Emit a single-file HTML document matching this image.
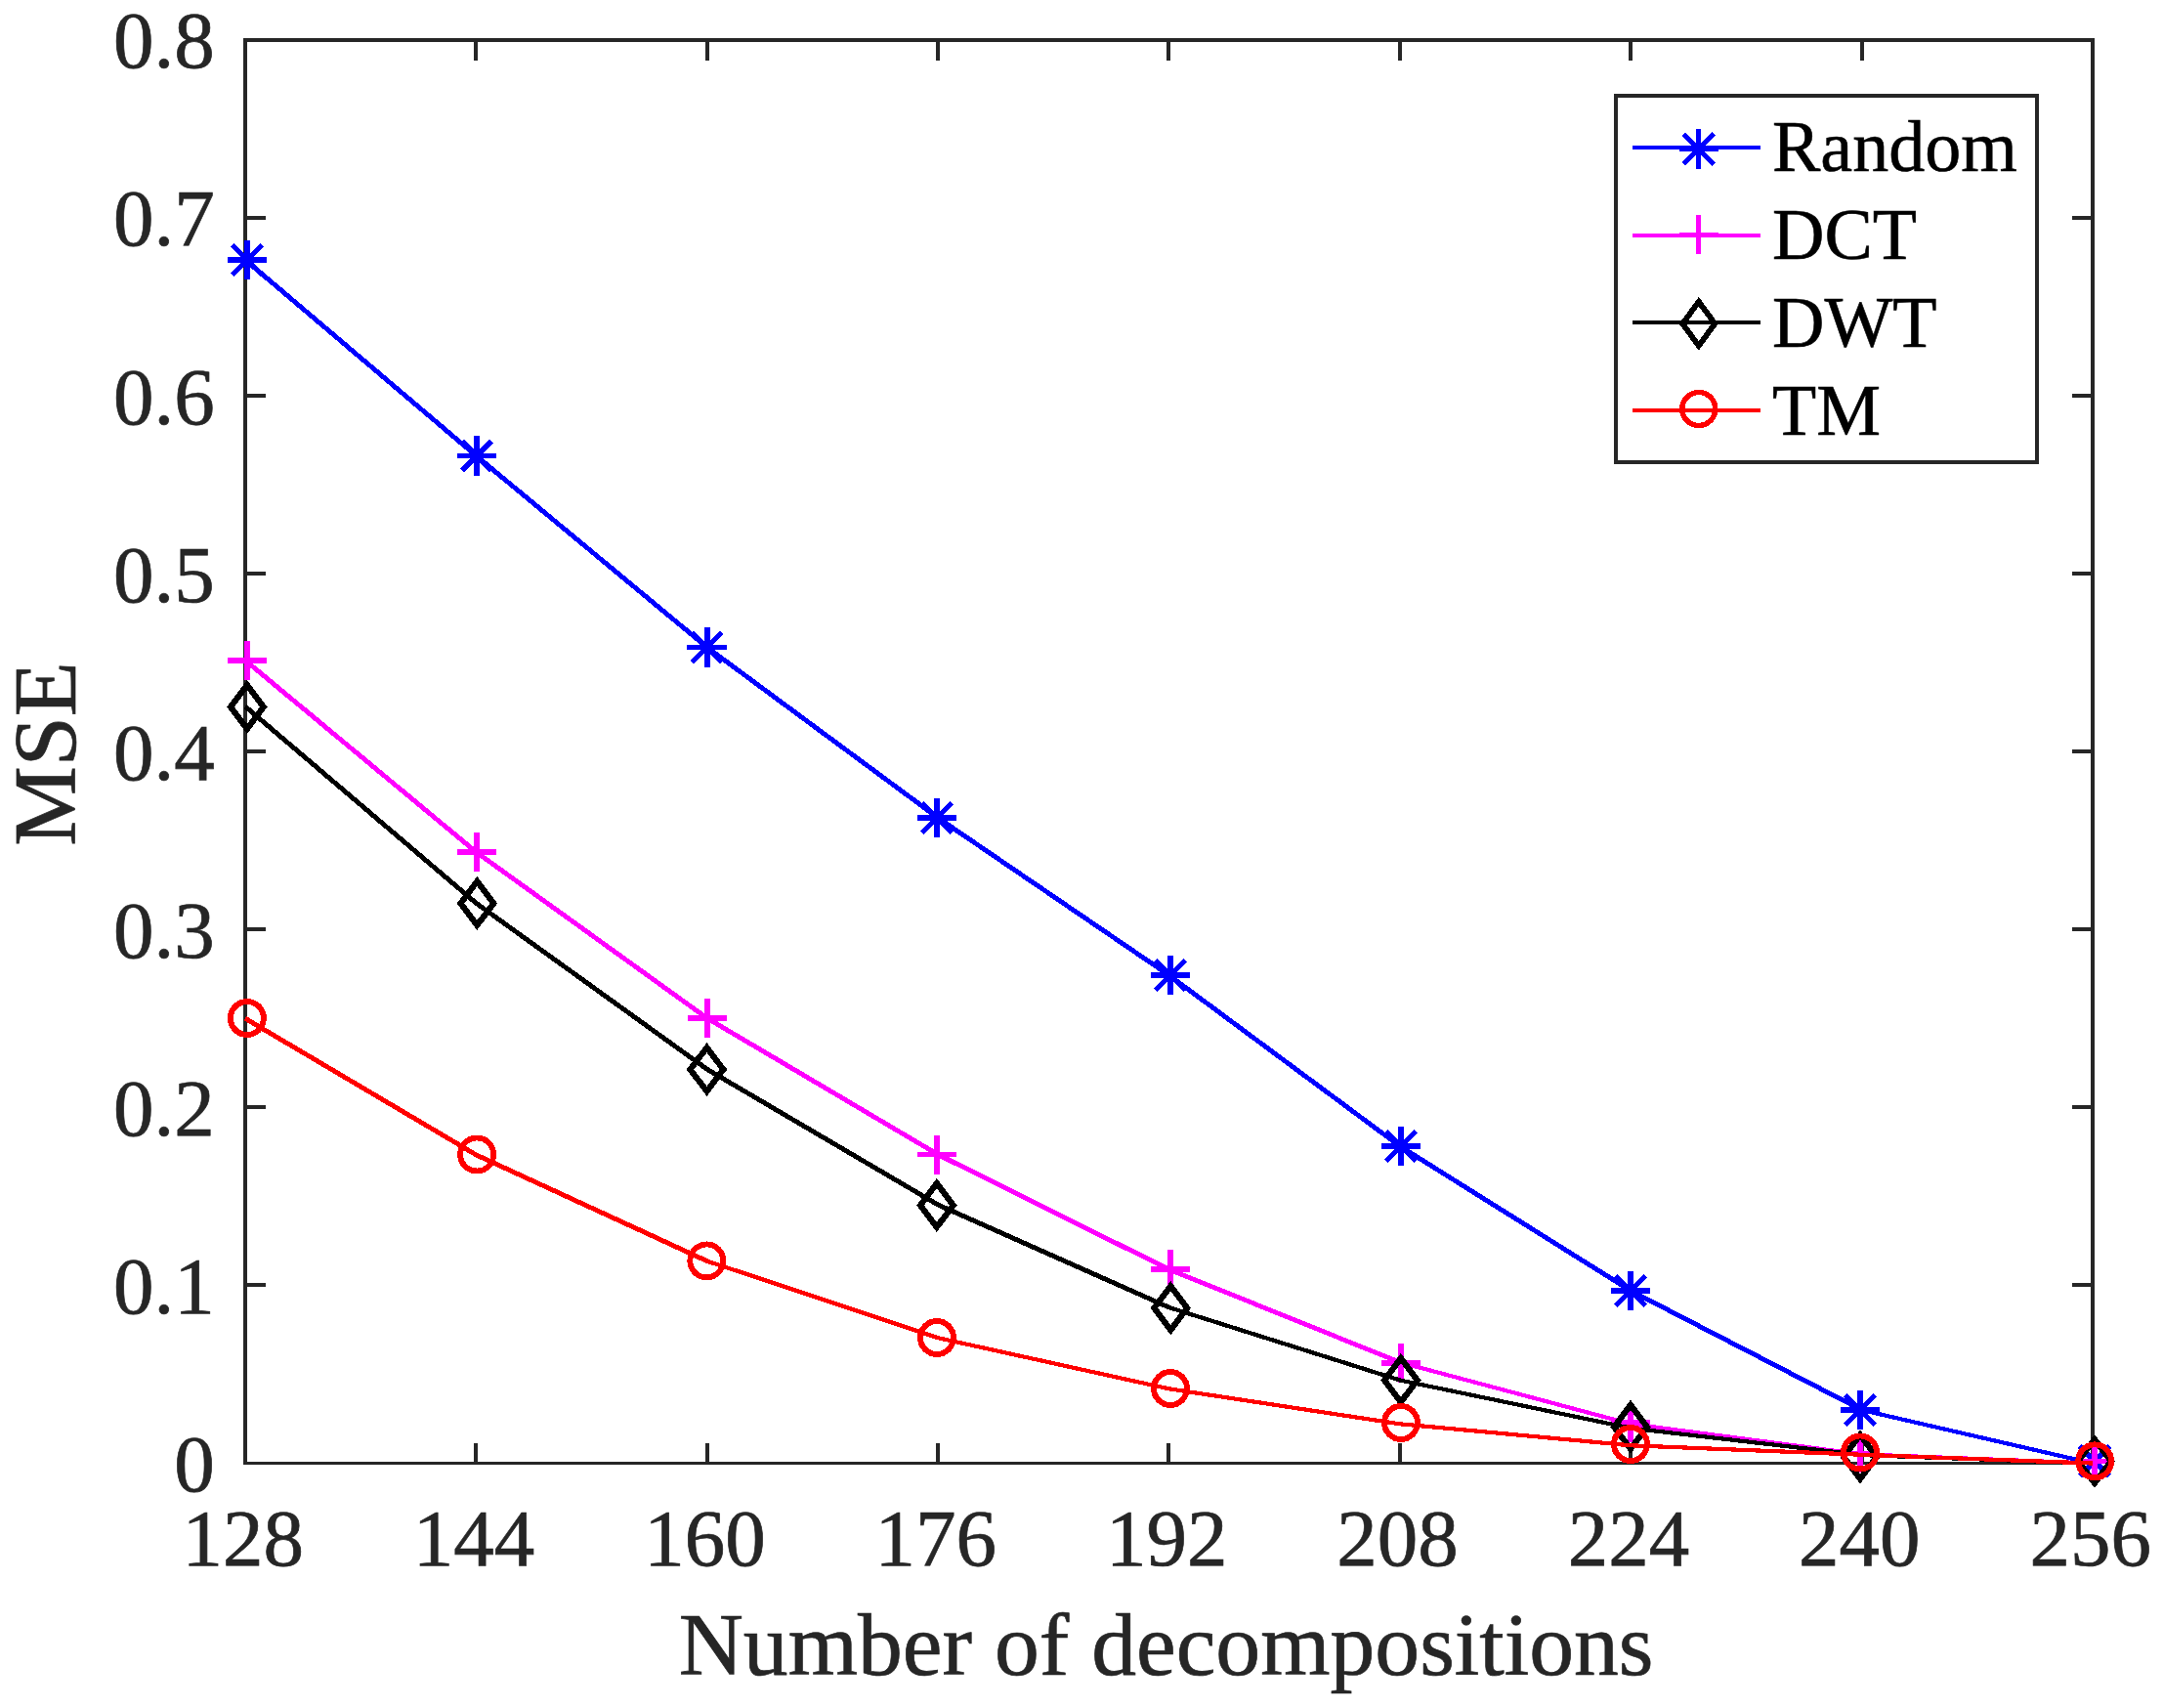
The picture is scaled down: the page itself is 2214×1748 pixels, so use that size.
<!DOCTYPE html>
<html lang="en"><head><meta charset="utf-8"><title>MSE versus number of decompositions</title>
<style>html,body{margin:0;padding:0;background:#fff}svg{display:block}text{font-family:"Liberation Serif",serif}</style></head><body>
<svg width="2214" height="1748" viewBox="0 0 2214 1748">
<rect width="2214" height="1748" fill="#fff"/>
<g fill="#262626" shape-rendering="crispEdges">
<rect x="249" y="39" width="4.05" height="1460"/>
<rect x="2140.05" y="39" width="3.95" height="1460"/>
<rect x="249" y="38.9" width="1895" height="4.2"/>
<rect x="249" y="1496.15" width="1895" height="2.85"/>
<rect x="485" y="1477" width="4" height="21"/>
<rect x="485" y="41" width="4" height="21"/>
<rect x="251" y="1313" width="21" height="4"/>
<rect x="2121" y="1313" width="21" height="4"/>
<rect x="722" y="1477" width="4" height="21"/>
<rect x="722" y="41" width="4" height="21"/>
<rect x="251" y="1131" width="21" height="4"/>
<rect x="2121" y="1131" width="21" height="4"/>
<rect x="958" y="1477" width="4" height="21"/>
<rect x="958" y="41" width="4" height="21"/>
<rect x="251" y="949" width="21" height="4"/>
<rect x="2121" y="949" width="21" height="4"/>
<rect x="1194" y="1477" width="4" height="21"/>
<rect x="1194" y="41" width="4" height="21"/>
<rect x="251" y="767" width="21" height="4"/>
<rect x="2121" y="767" width="21" height="4"/>
<rect x="1431" y="1477" width="4" height="21"/>
<rect x="1431" y="41" width="4" height="21"/>
<rect x="251" y="585" width="21" height="4"/>
<rect x="2121" y="585" width="21" height="4"/>
<rect x="1667" y="1477" width="4" height="21"/>
<rect x="1667" y="41" width="4" height="21"/>
<rect x="251" y="403" width="21" height="4"/>
<rect x="2121" y="403" width="21" height="4"/>
<rect x="1904" y="1477" width="4" height="21"/>
<rect x="1904" y="41" width="4" height="21"/>
<rect x="251" y="221" width="21" height="4"/>
<rect x="2121" y="221" width="21" height="4"/>
</g>
<g fill="#262626" stroke="#262626" stroke-width="0.7" font-size="83.0">
<text x="248.70" y="1601.8" text-anchor="middle">128</text>
<text x="485.07" y="1601.8" text-anchor="middle">144</text>
<text x="721.45" y="1601.8" text-anchor="middle">160</text>
<text x="957.83" y="1601.8" text-anchor="middle">176</text>
<text x="1194.20" y="1601.8" text-anchor="middle">192</text>
<text x="1430.58" y="1601.8" text-anchor="middle">208</text>
<text x="1666.95" y="1601.8" text-anchor="middle">224</text>
<text x="1903.33" y="1601.8" text-anchor="middle">240</text>
<text x="2139.70" y="1601.8" text-anchor="middle">256</text>
<text x="219.8" y="1525.95" text-anchor="end">0</text>
<text x="219.8" y="1343.88" text-anchor="end">0.1</text>
<text x="219.8" y="1161.81" text-anchor="end">0.2</text>
<text x="219.8" y="979.74" text-anchor="end">0.3</text>
<text x="219.8" y="797.67" text-anchor="end">0.4</text>
<text x="219.8" y="615.61" text-anchor="end">0.5</text>
<text x="219.8" y="433.54" text-anchor="end">0.6</text>
<text x="219.8" y="251.47" text-anchor="end">0.7</text>
<text x="219.8" y="69.40" text-anchor="end">0.8</text>
</g>
<text x="1193.6" y="1713.5" text-anchor="middle" font-size="91.67" fill="#262626" stroke="#262626" stroke-width="0.7">Number of decompositions</text>
<text transform="translate(76.6 771.5) rotate(-90)" text-anchor="middle" font-size="91.67" fill="#262626" stroke="#262626" stroke-width="0.7">MSE</text>
<g shape-rendering="crispEdges">
<g stroke="#0000ff" fill="none">
<line x1="251.00" y1="265.90" x2="487.38" y2="466.45" stroke-width="4.95"/>
<line x1="487.38" y1="466.45" x2="723.75" y2="662.50" stroke-width="4.95"/>
<line x1="723.75" y1="662.50" x2="960.12" y2="837.00" stroke-width="4.95"/>
<line x1="960.12" y1="837.00" x2="1196.50" y2="998.00" stroke-width="4.95"/>
<line x1="1196.50" y1="998.00" x2="1432.88" y2="1173.00" stroke-width="4.95"/>
<line x1="1432.88" y1="1173.00" x2="1669.25" y2="1321.00" stroke-width="4.95"/>
<line x1="1669.25" y1="1321.00" x2="1905.62" y2="1443.00" stroke-width="4.95"/>
<line x1="1905.62" y1="1443.00" x2="2142.00" y2="1497.55" stroke-width="4.20"/>
</g>
<g fill="#0000ff">
<circle cx="487.38" cy="466.45" r="2.48"/>
<circle cx="723.75" cy="662.50" r="2.48"/>
<circle cx="960.12" cy="837.00" r="2.48"/>
<circle cx="1196.50" cy="998.00" r="2.48"/>
<circle cx="1432.88" cy="1173.00" r="2.48"/>
<circle cx="1669.25" cy="1321.00" r="2.48"/>
<circle cx="1905.62" cy="1443.00" r="2.10"/>
</g>
<g stroke="#0000ff" fill="none"><path d="M253.00 245.70V286.10" stroke-width="6.0"/><path d="M232.80 265.90H273.20" stroke-width="5.2"/><path d="M237.80 250.70L268.20 281.10M237.80 281.10L268.20 250.70" stroke-width="5.4"/></g>
<g stroke="#0000ff" fill="none"><path d="M488.00 446.25V486.65" stroke-width="6.0"/><path d="M467.80 466.45H508.20" stroke-width="5.2"/><path d="M472.80 451.25L503.20 481.65M472.80 481.65L503.20 451.25" stroke-width="5.4"/></g>
<g stroke="#0000ff" fill="none"><path d="M723.50 642.30V682.70" stroke-width="6.0"/><path d="M703.30 662.50H743.70" stroke-width="5.2"/><path d="M708.30 647.30L738.70 677.70M708.30 677.70L738.70 647.30" stroke-width="5.4"/></g>
<g stroke="#0000ff" fill="none"><path d="M959.00 816.80V857.20" stroke-width="6.0"/><path d="M938.80 837.00H979.20" stroke-width="5.2"/><path d="M943.80 821.80L974.20 852.20M943.80 852.20L974.20 821.80" stroke-width="5.4"/></g>
<g stroke="#0000ff" fill="none"><path d="M1198.00 977.80V1018.20" stroke-width="6.0"/><path d="M1177.80 998.00H1218.20" stroke-width="5.2"/><path d="M1182.80 982.80L1213.20 1013.20M1182.80 1013.20L1213.20 982.80" stroke-width="5.4"/></g>
<g stroke="#0000ff" fill="none"><path d="M1434.00 1152.80V1193.20" stroke-width="6.0"/><path d="M1413.80 1173.00H1454.20" stroke-width="5.2"/><path d="M1418.80 1157.80L1449.20 1188.20M1418.80 1188.20L1449.20 1157.80" stroke-width="5.4"/></g>
<g stroke="#0000ff" fill="none"><path d="M1669.00 1300.80V1341.20" stroke-width="6.0"/><path d="M1648.80 1321.00H1689.20" stroke-width="5.2"/><path d="M1653.80 1305.80L1684.20 1336.20M1653.80 1336.20L1684.20 1305.80" stroke-width="5.4"/></g>
<g stroke="#0000ff" fill="none"><path d="M1904.00 1422.80V1463.20" stroke-width="6.0"/><path d="M1883.80 1443.00H1924.20" stroke-width="5.2"/><path d="M1888.80 1427.80L1919.20 1458.20M1888.80 1458.20L1919.20 1427.80" stroke-width="5.4"/></g>
<g stroke="#0000ff" fill="none"><path d="M2144.00 1475.20V1515.60" stroke-width="6.0"/><path d="M2123.80 1495.40H2164.20" stroke-width="5.2"/><path d="M2128.80 1480.20L2159.20 1510.60M2128.80 1510.60L2159.20 1480.20" stroke-width="5.4"/></g>
<g stroke="#ff00ff" fill="none">
<line x1="251.00" y1="675.85" x2="487.38" y2="872.00" stroke-width="4.95"/>
<line x1="487.38" y1="872.00" x2="723.75" y2="1042.00" stroke-width="4.95"/>
<line x1="723.75" y1="1042.00" x2="960.12" y2="1181.60" stroke-width="4.95"/>
<line x1="960.12" y1="1181.60" x2="1196.50" y2="1299.10" stroke-width="4.95"/>
<line x1="1196.50" y1="1299.10" x2="1432.88" y2="1394.20" stroke-width="4.82"/>
<line x1="1432.88" y1="1394.20" x2="1669.25" y2="1457.30" stroke-width="4.20"/>
<line x1="1669.25" y1="1457.30" x2="1905.62" y2="1488.40" stroke-width="4.20"/>
<line x1="1905.62" y1="1488.40" x2="2142.00" y2="1497.55" stroke-width="4.20"/>
</g>
<g fill="#ff00ff">
<circle cx="487.38" cy="872.00" r="2.48"/>
<circle cx="723.75" cy="1042.00" r="2.48"/>
<circle cx="960.12" cy="1181.60" r="2.48"/>
<circle cx="1196.50" cy="1299.10" r="2.41"/>
<circle cx="1432.88" cy="1394.20" r="2.10"/>
<circle cx="1669.25" cy="1457.30" r="2.10"/>
<circle cx="1905.62" cy="1488.40" r="2.10"/>
</g>
<g stroke="#ff00ff" fill="none"><path d="M253.00 655.85V695.85" stroke-width="6.0"/><path d="M233.00 675.85H273.00" stroke-width="5.6"/></g>
<g stroke="#ff00ff" fill="none"><path d="M488.00 852.00V892.00" stroke-width="6.0"/><path d="M468.00 872.00H508.00" stroke-width="5.6"/></g>
<g stroke="#ff00ff" fill="none"><path d="M723.50 1022.00V1062.00" stroke-width="6.0"/><path d="M703.50 1042.00H743.50" stroke-width="5.6"/></g>
<g stroke="#ff00ff" fill="none"><path d="M959.00 1161.50V1201.50" stroke-width="6.0"/><path d="M939.00 1181.50H979.00" stroke-width="5.6"/></g>
<g stroke="#ff00ff" fill="none"><path d="M1198.00 1279.00V1319.00" stroke-width="6.0"/><path d="M1178.00 1299.00H1218.00" stroke-width="5.6"/></g>
<g stroke="#ff00ff" fill="none"><path d="M1434.00 1375.00V1415.00" stroke-width="6.0"/><path d="M1414.00 1395.00H1454.00" stroke-width="5.6"/></g>
<g stroke="#ff00ff" fill="none"><path d="M1669.00 1436.20V1476.20" stroke-width="6.0"/><path d="M1649.00 1456.20H1689.00" stroke-width="5.6"/></g>
<g stroke="#ff00ff" fill="none"><path d="M1904.20 1467.30V1507.30" stroke-width="6.0"/><path d="M1884.20 1487.30H1924.20" stroke-width="5.6"/></g>
<g stroke="#ff00ff" fill="none"><path d="M2144.00 1475.40V1515.40" stroke-width="6.0"/><path d="M2124.00 1495.40H2164.00" stroke-width="5.6"/></g>
<g stroke="#000000" fill="none">
<line x1="251.00" y1="723.00" x2="487.38" y2="924.30" stroke-width="4.95"/>
<line x1="487.38" y1="924.30" x2="723.75" y2="1094.30" stroke-width="4.95"/>
<line x1="723.75" y1="1094.30" x2="960.12" y2="1233.00" stroke-width="4.95"/>
<line x1="960.12" y1="1233.00" x2="1196.50" y2="1338.00" stroke-width="4.95"/>
<line x1="1196.50" y1="1338.00" x2="1432.88" y2="1412.50" stroke-width="4.32"/>
<line x1="1432.88" y1="1412.50" x2="1669.25" y2="1461.60" stroke-width="4.20"/>
<line x1="1669.25" y1="1461.60" x2="1905.62" y2="1489.10" stroke-width="4.20"/>
<line x1="1905.62" y1="1489.10" x2="2142.00" y2="1497.55" stroke-width="4.20"/>
</g>
<g fill="#000000">
<circle cx="487.38" cy="924.30" r="2.48"/>
<circle cx="723.75" cy="1094.30" r="2.48"/>
<circle cx="960.12" cy="1233.00" r="2.47"/>
<circle cx="1196.50" cy="1338.00" r="2.16"/>
<circle cx="1432.88" cy="1412.50" r="2.10"/>
<circle cx="1669.25" cy="1461.60" r="2.10"/>
<circle cx="1905.62" cy="1489.10" r="2.10"/>
</g>
<path d="M252.90 701.05L269.80 723.50L252.90 745.95L236.00 723.50Z" stroke="#000000" stroke-width="6.2" fill="none" stroke-linejoin="miter" stroke-miterlimit="10"/>
<path d="M488.30 902.05L505.20 924.50L488.30 946.95L471.40 924.50Z" stroke="#000000" stroke-width="6.2" fill="none" stroke-linejoin="miter" stroke-miterlimit="10"/>
<path d="M723.50 1072.05L740.40 1094.50L723.50 1116.95L706.60 1094.50Z" stroke="#000000" stroke-width="6.2" fill="none" stroke-linejoin="miter" stroke-miterlimit="10"/>
<path d="M958.80 1211.05L975.70 1233.50L958.80 1255.95L941.90 1233.50Z" stroke="#000000" stroke-width="6.2" fill="none" stroke-linejoin="miter" stroke-miterlimit="10"/>
<path d="M1198.30 1316.15L1215.20 1338.60L1198.30 1361.05L1181.40 1338.60Z" stroke="#000000" stroke-width="6.2" fill="none" stroke-linejoin="miter" stroke-miterlimit="10"/>
<path d="M1433.80 1390.05L1450.70 1412.50L1433.80 1434.95L1416.90 1412.50Z" stroke="#000000" stroke-width="6.2" fill="none" stroke-linejoin="miter" stroke-miterlimit="10"/>
<path d="M1669.00 1437.95L1685.90 1460.40L1669.00 1482.85L1652.10 1460.40Z" stroke="#000000" stroke-width="6.2" fill="none" stroke-linejoin="miter" stroke-miterlimit="10"/>
<path d="M1904.00 1468.55L1920.90 1491.00L1904.00 1513.45L1887.10 1491.00Z" stroke="#000000" stroke-width="6.2" fill="none" stroke-linejoin="miter" stroke-miterlimit="10"/>
<path d="M2144.00 1473.05L2160.90 1495.50L2144.00 1517.95L2127.10 1495.50Z" stroke="#000000" stroke-width="6.2" fill="none" stroke-linejoin="miter" stroke-miterlimit="10"/>
<g stroke="#ff0000" fill="none">
<line x1="251.00" y1="1042.30" x2="487.38" y2="1181.90" stroke-width="4.95"/>
<line x1="487.38" y1="1181.90" x2="723.75" y2="1290.60" stroke-width="4.95"/>
<line x1="723.75" y1="1290.60" x2="960.12" y2="1369.20" stroke-width="4.41"/>
<line x1="960.12" y1="1369.20" x2="1196.50" y2="1421.30" stroke-width="4.20"/>
<line x1="1196.50" y1="1421.30" x2="1432.88" y2="1457.30" stroke-width="4.20"/>
<line x1="1432.88" y1="1457.30" x2="1669.25" y2="1479.30" stroke-width="4.20"/>
<line x1="1669.25" y1="1479.30" x2="1905.62" y2="1488.75" stroke-width="4.20"/>
<line x1="1905.62" y1="1488.75" x2="2142.00" y2="1497.55" stroke-width="4.20"/>
</g>
<g fill="#ff0000">
<circle cx="487.38" cy="1181.90" r="2.48"/>
<circle cx="723.75" cy="1290.60" r="2.20"/>
<circle cx="960.12" cy="1369.20" r="2.10"/>
<circle cx="1196.50" cy="1421.30" r="2.10"/>
<circle cx="1432.88" cy="1457.30" r="2.10"/>
<circle cx="1669.25" cy="1479.30" r="2.10"/>
<circle cx="1905.62" cy="1488.75" r="2.10"/>
</g>
<circle cx="252.90" cy="1042.00" r="17.0" stroke="#ff0000" stroke-width="5.9" fill="none"/>
<circle cx="488.10" cy="1181.50" r="17.0" stroke="#ff0000" stroke-width="5.9" fill="none"/>
<circle cx="723.30" cy="1290.40" r="17.0" stroke="#ff0000" stroke-width="5.9" fill="none"/>
<circle cx="959.00" cy="1369.00" r="17.0" stroke="#ff0000" stroke-width="5.9" fill="none"/>
<circle cx="1198.00" cy="1421.00" r="17.0" stroke="#ff0000" stroke-width="5.9" fill="none"/>
<circle cx="1434.00" cy="1456.00" r="17.0" stroke="#ff0000" stroke-width="5.9" fill="none"/>
<circle cx="1669.00" cy="1478.00" r="17.0" stroke="#ff0000" stroke-width="5.9" fill="none"/>
<circle cx="1904.00" cy="1486.50" r="17.0" stroke="#ff0000" stroke-width="5.9" fill="none"/>
<circle cx="2144.20" cy="1495.40" r="17.0" stroke="#ff0000" stroke-width="5.9" fill="none"/>
</g>
<rect x="1654.1" y="97.8" width="430.9" height="375.3" fill="#fff" stroke="#262626" stroke-width="4.1" shape-rendering="crispEdges"/>
<g shape-rendering="crispEdges">
<rect x="1671" y="148.85" width="131" height="4.3" fill="#0000ff"/>
<g stroke="#0000ff" fill="none"><path d="M1738.80 132.30V172.70" stroke-width="5.0"/><path d="M1718.60 152.50H1759.00" stroke-width="5.0"/><path d="M1723.20 136.90L1754.40 168.10M1723.20 168.10L1754.40 136.90" stroke-width="5.0"/></g>
</g>
<text x="1814.0" y="175.2" font-size="74.0" fill="#000" stroke="#000" stroke-width="0.6">Random</text>
<g shape-rendering="crispEdges">
<rect x="1671" y="238.65" width="131" height="4.3" fill="#ff00ff"/>
<g stroke="#ff00ff" fill="none"><path d="M1738.80 220.00V260.00" stroke-width="5.0"/><path d="M1718.80 240.00H1758.80" stroke-width="5.0"/></g>
</g>
<text x="1814.0" y="265.0" font-size="74.0" fill="#000" stroke="#000" stroke-width="0.6">DCT</text>
<g shape-rendering="crispEdges">
<rect x="1671" y="327.85" width="131" height="4.3" fill="#000000"/>
<path d="M1738.80 308.70L1755.40 331.30L1738.80 353.90L1722.20 331.30Z" stroke="#000000" stroke-width="5.8" fill="none" stroke-linejoin="miter" stroke-miterlimit="10"/>
</g>
<text x="1814.0" y="354.8" font-size="74.0" fill="#000" stroke="#000" stroke-width="0.6">DWT</text>
<g shape-rendering="crispEdges">
<rect x="1671" y="417.95" width="131" height="4.3" fill="#ff0000"/>
<circle cx="1738.80" cy="418.50" r="17.0" stroke="#ff0000" stroke-width="5.5" fill="none"/>
</g>
<text x="1814.0" y="444.6" font-size="74.0" fill="#000" stroke="#000" stroke-width="0.6">TM</text>
</svg></body></html>
